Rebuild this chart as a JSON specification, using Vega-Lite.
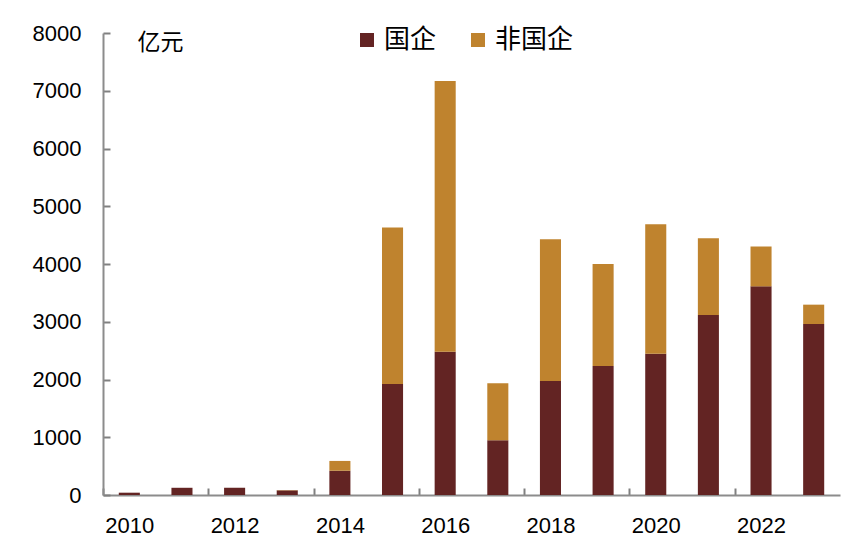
{
  "$schema": "https://vega.github.io/schema/vega-lite/v6.json",
  "autosize": "none",
  "padding": {"left": 103, "top": 33, "right": 25, "bottom": 53},
  "width": 737,
  "height": 462,
  "background": "white",
  "config": {"view": {"stroke": null}},
  "data": {
    "values": [
      {"year": "2010", "type": "国企", "value": 40},
      {"year": "2011", "type": "国企", "value": 125},
      {"year": "2012", "type": "国企", "value": 125},
      {"year": "2013", "type": "国企", "value": 80},
      {"year": "2013", "type": "非国企", "value": 5},
      {"year": "2014", "type": "国企", "value": 420},
      {"year": "2014", "type": "非国企", "value": 170},
      {"year": "2015", "type": "国企", "value": 1920},
      {"year": "2015", "type": "非国企", "value": 2710},
      {"year": "2016", "type": "国企", "value": 2480},
      {"year": "2016", "type": "非国企", "value": 4690},
      {"year": "2017", "type": "国企", "value": 950},
      {"year": "2017", "type": "非国企", "value": 985},
      {"year": "2018", "type": "国企", "value": 1975},
      {"year": "2018", "type": "非国企", "value": 2455},
      {"year": "2019", "type": "国企", "value": 2235},
      {"year": "2019", "type": "非国企", "value": 1765},
      {"year": "2020", "type": "国企", "value": 2447},
      {"year": "2020", "type": "非国企", "value": 2240},
      {"year": "2021", "type": "国企", "value": 3117},
      {"year": "2021", "type": "非国企", "value": 1330},
      {"year": "2022", "type": "国企", "value": 3613},
      {"year": "2022", "type": "非国企", "value": 690},
      {"year": "2023", "type": "国企", "value": 2961},
      {"year": "2023", "type": "非国企", "value": 335}
    ]
  },
  "mark": {"type": "bar"},
  "encoding": {
    "x": {
      "field": "year",
      "type": "ordinal",
      "scale": {"paddingInner": 0.6, "paddingOuter": 0.3},
      "axis": {
        "title": null,
        "labelAngle": 0,
        "values": ["2010", "2012", "2014", "2016", "2018", "2020", "2022"],
        "tickBand": "center",
        "tickOffset": -26.32,
        "labelOffset": 26.32,
        "tickSize": -7,
        "tickColor": "#808080",
        "tickWidth": 2,
        "domainColor": "#8c8c8c",
        "domainWidth": 2,
        "labelFont": "Liberation Sans",
        "labelFontSize": 22,
        "labelColor": "#000000",
        "labelPadding": 27
      }
    },
    "y": {
      "field": "value",
      "type": "quantitative",
      "aggregate": "sum",
      "stack": "zero",
      "scale": {"domain": [0, 8000], "nice": false},
      "axis": {
        "values": [0, 1000, 2000, 3000, 4000, 5000, 6000, 7000, 8000],
        "format": "d",
        "grid": false,
        "title": "亿元",
        "titleAngle": 0,
        "titleX": 34,
        "titleY": 9,
        "titleAlign": "left",
        "titleBaseline": "middle",
        "titleFont": "Noto Sans CJK SC",
        "titleFontSize": 23,
        "titleFontWeight": "normal",
        "titleColor": "#000000",
        "tickSize": -7,
        "tickColor": "#808080",
        "tickWidth": 2,
        "domainColor": "#8c8c8c",
        "domainWidth": 2,
        "labelFont": "Liberation Sans",
        "labelFontSize": 22,
        "labelColor": "#000000",
        "labelPadding": 29
      }
    },
    "color": {
      "field": "type",
      "type": "nominal",
      "scale": {"domain": ["国企", "非国企"], "range": ["#632423", "#BF832E"]},
      "legend": {
        "title": null,
        "orient": "none",
        "direction": "horizontal",
        "legendX": 251,
        "legendY": -6,
        "symbolType": "square",
        "symbolSize": 196,
        "symbolStrokeWidth": 0,
        "labelFont": "Noto Sans CJK SC",
        "labelFontSize": 26,
        "labelColor": "#000000",
        "labelOffset": 4,
        "columnPadding": 28
      }
    },
    "order": {"field": "type", "sort": "ascending"}
  }
}
